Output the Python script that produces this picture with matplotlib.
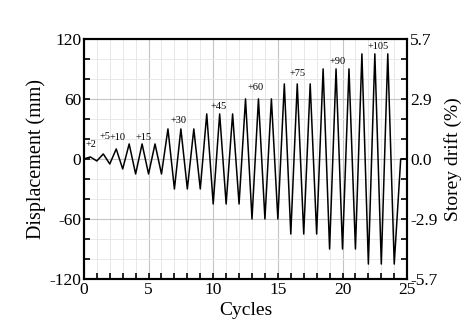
import matplotlib
matplotlib.use("Agg")
import matplotlib.pyplot as plt
from matplotlib.ticker import MultipleLocator, FixedLocator
import numpy as np

plt.rcParams['font.family'] = ['Liberation Serif', 'DejaVu Serif']
plt.rcParams['axes.unicode_minus'] = False

# cycle amplitudes (mm), one entry per cycle
amplitudes = [2, 5, 10, 15, 15, 15, 30, 30, 30, 45, 45, 45,
              60, 60, 60, 75, 75, 75, 90, 90, 90, 105, 105, 105]
# amplitude group labels and their anchor (cycle, mm)
group_labels = ["+2", "+5", "+10", "+15", "+30", "+45", "+60", "+75", "+90", "+105"]
label_x = [0.55, 1.6, 2.6, 4.65, 7.35, 10.45, 13.3, 16.5, 19.65, 22.75]
label_y = [14, 22, 21, 21, 38, 52, 71, 85, 97, 112]
right_ticks = [-120, -60, 0, 60, 120]
right_labels = ["-5.7", "-2.9", "0.0", "2.9", "5.7"]

# build the displacement history: peak at n+0.5, trough at n+1
t = [0.0]
d = [0.0]
for i, a in enumerate(amplitudes):
    t += [i + 0.5, i + 1.0]
    d += [a, -a]
n = len(amplitudes)
t += [n + 0.5, 25.0]
d += [0.0, 0.0]

fig = plt.figure(figsize=(4.74, 3.35), dpi=100)
ax = fig.add_axes([0.177, 0.167, 0.682, 0.717])

ax.plot(t, d, color='black', lw=1.1, zorder=3)

ax.set_xlim(0, 25)
ax.set_ylim(-120, 120)
ax.xaxis.set_major_locator(MultipleLocator(5))
ax.xaxis.set_minor_locator(MultipleLocator(1))
ax.yaxis.set_major_locator(MultipleLocator(60))
ax.yaxis.set_minor_locator(MultipleLocator(20))
ax.grid(which='major', color='#c4c4c4', lw=0.8, zorder=0)
ax.grid(which='minor', color='#e8e8e8', lw=0.7, zorder=0)
ax.tick_params(which='both', direction='in', length=4, width=1.2,
               top=False, right=False, labelsize=12.5, pad=2)

ax.set_xlabel('Cycles', fontsize=14, labelpad=3)
ax.set_ylabel('Displacement (mm)', fontsize=14.5, labelpad=2)

for lab, x, y in zip(group_labels, label_x, label_y):
    ax.text(x, y, lab, fontsize=7.5, ha='center', va='center', zorder=4)

for s in ax.spines.values():
    s.set_linewidth(1.5)

ax2 = ax.twinx()
ax2.set_ylim(-120, 120)
ax2.yaxis.set_major_locator(FixedLocator(right_ticks))
ax2.set_yticklabels(right_labels)
ax2.yaxis.set_minor_locator(MultipleLocator(20))
ax2.tick_params(which='both', direction='in', length=4, width=1.2,
                labelsize=12.5, pad=2)
ax2.set_ylabel('Storey drift (%)', fontsize=14, labelpad=5)
for s in ax2.spines.values():
    s.set_linewidth(1.5)

fig.savefig('out.png', dpi=100)
